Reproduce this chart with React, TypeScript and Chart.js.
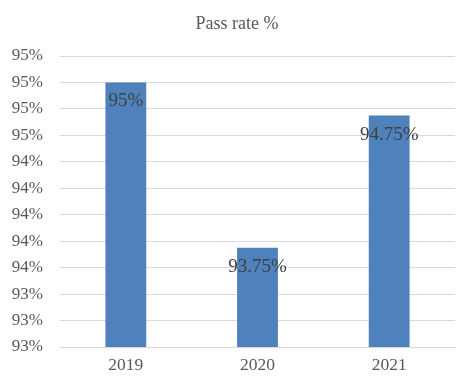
import React, { useEffect, useRef } from "react";
import { Chart, registerables } from "chart.js";

Chart.register(...registerables);

const categories = ["2019", "2020", "2021"];
const passRate = [95, 93.75, 94.75];
const dataLabels = ["95%", "93.75%", "94.75%"];
const chartTitle = "Pass rate %";

const FONT = '"Liberation Serif", "Times New Roman", serif';

const labelPlugin = {
  id: "barLabels",
  afterDatasetsDraw(chart: any) {
    const ctx = chart.ctx;
    const meta = chart.getDatasetMeta(0);
    ctx.save();
    ctx.font = `19px ${FONT}`;
    ctx.fillStyle = "#404040";
    ctx.textAlign = "center";
    ctx.textBaseline = "middle";
    meta.data.forEach((el: any, i: number) => {
      ctx.fillText(dataLabels[i], el.x, el.y + 19);
    });
    ctx.restore();
  },
  afterDraw(chart: any) {
    const ctx = chart.ctx;
    ctx.save();
    ctx.font = `18px ${FONT}`;
    ctx.fillStyle = "#595959";
    ctx.textAlign = "center";
    ctx.textBaseline = "middle";
    ctx.fillText(chartTitle, chart.width / 2, 24);
    ctx.restore();
  },
};

export default function App() {
  const ref = useRef<HTMLCanvasElement | null>(null);
  useEffect(() => {
    if (!ref.current) return;
    const chart = new Chart(ref.current, {
      type: "bar",
      data: {
        labels: categories,
        datasets: [
          {
            data: passRate,
            backgroundColor: "#4F81BD",
            borderWidth: 0,
            barPercentage: 0.31,
            categoryPercentage: 1,
          },
        ],
      },
      options: {
        animation: false,
        responsive: true,
        maintainAspectRatio: false,
        layout: { padding: { left: 0, right: 19, top: 56, bottom: 0 } },
        plugins: {
          legend: { display: false },
          tooltip: { enabled: false },
          title: { display: false },
        },
        scales: {
          x: {
            grid: { display: false, drawTicks: false },
            border: { display: true, color: "#d9d9d9", width: 1 },
            ticks: {
              color: "#595959",
              font: { family: FONT, size: 17.5 },
              padding: 8,
            },
            afterFit(scale: any) {
              scale.height = 40;
            },
          },
          y: {
            min: 93,
            max: 95.2,
            grid: { color: "#d9d9d9", drawTicks: false, lineWidth: 1 },
            border: { display: false },
            ticks: {
              stepSize: 0.2,
              color: "#595959",
              font: { family: FONT, size: 17 },
              padding: 17,
              callback: (v: any) => Math.round(Number(v)) + "%",
            },
            afterFit(scale: any) {
              scale.width = 60;
            },
          },
        },
      },
      plugins: [labelPlugin],
    });
    return () => chart.destroy();
  }, []);
  return (
    <div style={{ position: "fixed", left: 0, top: 0, width: 474, height: 387, background: "#fff" }}>
      <canvas ref={ref} />
    </div>
  );
}
